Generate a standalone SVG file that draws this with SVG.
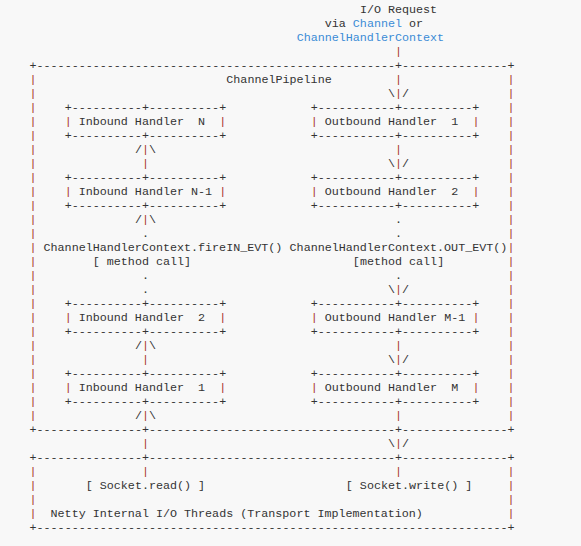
<svg xmlns="http://www.w3.org/2000/svg" width="581" height="546" viewBox="0 0 581 546">
<style>
text { font-family: "Liberation Mono", "Courier New", monospace; font-size: 11.715px; fill: #333333; }
.b { fill: #a8352b; }
.l { fill: #3a8bd6; }
</style>
<rect width="581" height="546" fill="#f8f8f8"/>

<g id="io-request">
<text x="359.90" y="13">I/O Request</text>
<text x="324.75" y="27">via <tspan class="l">Channel</tspan> or</text>
<text x="296.63" y="41" class="l">ChannelHandlerContext</text>
</g>

<g id="pipeline">
<text y="69"><tspan x="29.49">+</tspan><tspan x="395.05">+</tspan><tspan x="507.53">+</tspan></text>
<text x="36.52" y="69" textLength="358.53" lengthAdjust="spacing">---------------------------------------------------</text>
<text x="402.08" y="69" textLength="105.45" lengthAdjust="spacing">---------------</text>
<text x="226.33" y="83">ChannelPipeline</text>
<text class="b"><tspan x="29.49" y="83">|</tspan><tspan x="29.49" y="97">|</tspan><tspan x="29.49" y="111">|</tspan><tspan x="29.49" y="125">|</tspan><tspan x="29.49" y="139">|</tspan><tspan x="29.49" y="153">|</tspan><tspan x="29.49" y="167">|</tspan><tspan x="29.49" y="181">|</tspan><tspan x="29.49" y="195">|</tspan><tspan x="29.49" y="209">|</tspan><tspan x="29.49" y="223">|</tspan><tspan x="29.49" y="237">|</tspan><tspan x="29.49" y="251">|</tspan><tspan x="29.49" y="265">|</tspan><tspan x="29.49" y="279">|</tspan><tspan x="29.49" y="293">|</tspan><tspan x="29.49" y="307">|</tspan><tspan x="29.49" y="321">|</tspan><tspan x="29.49" y="335">|</tspan><tspan x="29.49" y="349">|</tspan><tspan x="29.49" y="363">|</tspan><tspan x="29.49" y="377">|</tspan><tspan x="29.49" y="391">|</tspan><tspan x="29.49" y="405">|</tspan><tspan x="29.49" y="419">|</tspan></text>
<text class="b"><tspan x="507.53" y="83">|</tspan><tspan x="507.53" y="97">|</tspan><tspan x="507.53" y="111">|</tspan><tspan x="507.53" y="125">|</tspan><tspan x="507.53" y="139">|</tspan><tspan x="507.53" y="153">|</tspan><tspan x="507.53" y="167">|</tspan><tspan x="507.53" y="181">|</tspan><tspan x="507.53" y="195">|</tspan><tspan x="507.53" y="209">|</tspan><tspan x="507.53" y="223">|</tspan><tspan x="507.53" y="237">|</tspan><tspan x="507.53" y="251">|</tspan><tspan x="507.53" y="265">|</tspan><tspan x="507.53" y="279">|</tspan><tspan x="507.53" y="293">|</tspan><tspan x="507.53" y="307">|</tspan><tspan x="507.53" y="321">|</tspan><tspan x="507.53" y="335">|</tspan><tspan x="507.53" y="349">|</tspan><tspan x="507.53" y="363">|</tspan><tspan x="507.53" y="377">|</tspan><tspan x="507.53" y="391">|</tspan><tspan x="507.53" y="405">|</tspan><tspan x="507.53" y="419">|</tspan></text>
<text y="433"><tspan x="29.49">+</tspan><tspan x="141.97">+</tspan><tspan x="395.05">+</tspan><tspan x="507.53">+</tspan></text>
<text x="36.52" y="433" textLength="105.45" lengthAdjust="spacing">---------------</text>
<text x="149.00" y="433" textLength="246.05" lengthAdjust="spacing">-----------------------------------</text>
<text x="402.08" y="433" textLength="105.45" lengthAdjust="spacing">---------------</text>
</g>

<g id="inbound-n">
<text x="64.64" y="111">+----------+----------+</text>
<text x="64.64" y="125" class="b">|</text>
<text x="78.70" y="125" xml:space="preserve">Inbound Handler  N</text>
<text x="219.30" y="125" class="b">|</text>
<text x="64.64" y="139">+----------+----------+</text>
</g>
<g id="inbound-n-1">
<text x="64.64" y="181">+----------+----------+</text>
<text x="64.64" y="195" class="b">|</text>
<text x="78.70" y="195">Inbound Handler N-1</text>
<text x="219.30" y="195" class="b">|</text>
<text x="64.64" y="209">+----------+----------+</text>
</g>
<g id="inbound-2">
<text x="64.64" y="307">+----------+----------+</text>
<text x="64.64" y="321" class="b">|</text>
<text x="78.70" y="321" xml:space="preserve">Inbound Handler  2</text>
<text x="219.30" y="321" class="b">|</text>
<text x="64.64" y="335">+----------+----------+</text>
</g>
<g id="inbound-1">
<text x="64.64" y="377">+----------+----------+</text>
<text x="64.64" y="391" class="b">|</text>
<text x="78.70" y="391" xml:space="preserve">Inbound Handler  1</text>
<text x="219.30" y="391" class="b">|</text>
<text x="64.64" y="405">+----------+----------+</text>
</g>

<g id="outbound-1">
<text x="310.69" y="111">+-----------+----------+</text>
<text x="310.69" y="125" class="b">|</text>
<text x="324.75" y="125" xml:space="preserve">Outbound Handler  1</text>
<text x="472.38" y="125" class="b">|</text>
<text x="310.69" y="139">+-----------+----------+</text>
</g>
<g id="outbound-2">
<text x="310.69" y="181">+-----------+----------+</text>
<text x="310.69" y="195" class="b">|</text>
<text x="324.75" y="195" xml:space="preserve">Outbound Handler  2</text>
<text x="472.38" y="195" class="b">|</text>
<text x="310.69" y="209">+-----------+----------+</text>
</g>
<g id="outbound-m-1">
<text x="310.69" y="307">+-----------+----------+</text>
<text x="310.69" y="321" class="b">|</text>
<text x="324.75" y="321">Outbound Handler M-1</text>
<text x="472.38" y="321" class="b">|</text>
<text x="310.69" y="335">+-----------+----------+</text>
</g>
<g id="outbound-m">
<text x="310.69" y="377">+-----------+----------+</text>
<text x="310.69" y="391" class="b">|</text>
<text x="324.75" y="391" xml:space="preserve">Outbound Handler  M</text>
<text x="472.38" y="391" class="b">|</text>
<text x="310.69" y="405">+-----------+----------+</text>
</g>

<g id="connectors">
<text class="b"><tspan x="395.05" y="55">|</tspan><tspan x="395.05" y="83">|</tspan><tspan x="395.05" y="153">|</tspan><tspan x="395.05" y="349">|</tspan><tspan x="395.05" y="419">|</tspan><tspan x="395.05" y="475">|</tspan></text>
<text class="b"><tspan x="141.97" y="167">|</tspan><tspan x="141.97" y="363">|</tspan><tspan x="141.97" y="447">|</tspan><tspan x="141.97" y="475">|</tspan></text>
<text x="388.02" y="97">\<tspan class="b">|</tspan>/</text>
<text x="388.02" y="167">\<tspan class="b">|</tspan>/</text>
<text x="388.02" y="293">\<tspan class="b">|</tspan>/</text>
<text x="388.02" y="363">\<tspan class="b">|</tspan>/</text>
<text x="388.02" y="447">\<tspan class="b">|</tspan>/</text>
<text x="134.94" y="153">/<tspan class="b">|</tspan>\</text>
<text x="134.94" y="223">/<tspan class="b">|</tspan>\</text>
<text x="134.94" y="349">/<tspan class="b">|</tspan>\</text>
<text x="134.94" y="419">/<tspan class="b">|</tspan>\</text>
<text><tspan x="395.05" y="223">.</tspan><tspan x="395.05" y="237">.</tspan><tspan x="395.05" y="279">.</tspan><tspan x="141.97" y="237">.</tspan><tspan x="141.97" y="279">.</tspan><tspan x="141.97" y="293">.</tspan></text>
</g>

<g id="event-labels">
<text x="43.55" y="251">ChannelHandlerContext.fireIN_EVT()</text>
<text x="289.60" y="251">ChannelHandlerContext.OUT_EVT()</text>
<text x="92.76" y="265">[ method call]</text>
<text x="352.87" y="265">[method call]</text>
</g>

<g id="transport">
<text y="461"><tspan x="29.49">+</tspan><tspan x="141.97">+</tspan><tspan x="395.05">+</tspan><tspan x="507.53">+</tspan></text>
<text x="36.52" y="461" textLength="105.45" lengthAdjust="spacing">---------------</text>
<text x="149.00" y="461" textLength="246.05" lengthAdjust="spacing">-----------------------------------</text>
<text x="402.08" y="461" textLength="105.45" lengthAdjust="spacing">---------------</text>
<text class="b"><tspan x="29.49" y="475">|</tspan><tspan x="29.49" y="489">|</tspan><tspan x="29.49" y="503">|</tspan><tspan x="29.49" y="517">|</tspan><tspan x="507.53" y="475">|</tspan><tspan x="507.53" y="489">|</tspan><tspan x="507.53" y="503">|</tspan><tspan x="507.53" y="517">|</tspan></text>
<text x="85.73" y="489">[ Socket.read() ]</text>
<text x="345.84" y="489">[ Socket.write() ]</text>
<text x="50.58" y="517">Netty Internal I/O Threads (Transport Implementation)</text>
<text y="531"><tspan x="29.49">+</tspan><tspan x="507.53">+</tspan></text>
<text x="36.52" y="531" textLength="471.01" lengthAdjust="spacing">-------------------------------------------------------------------</text>
</g>
</svg>
